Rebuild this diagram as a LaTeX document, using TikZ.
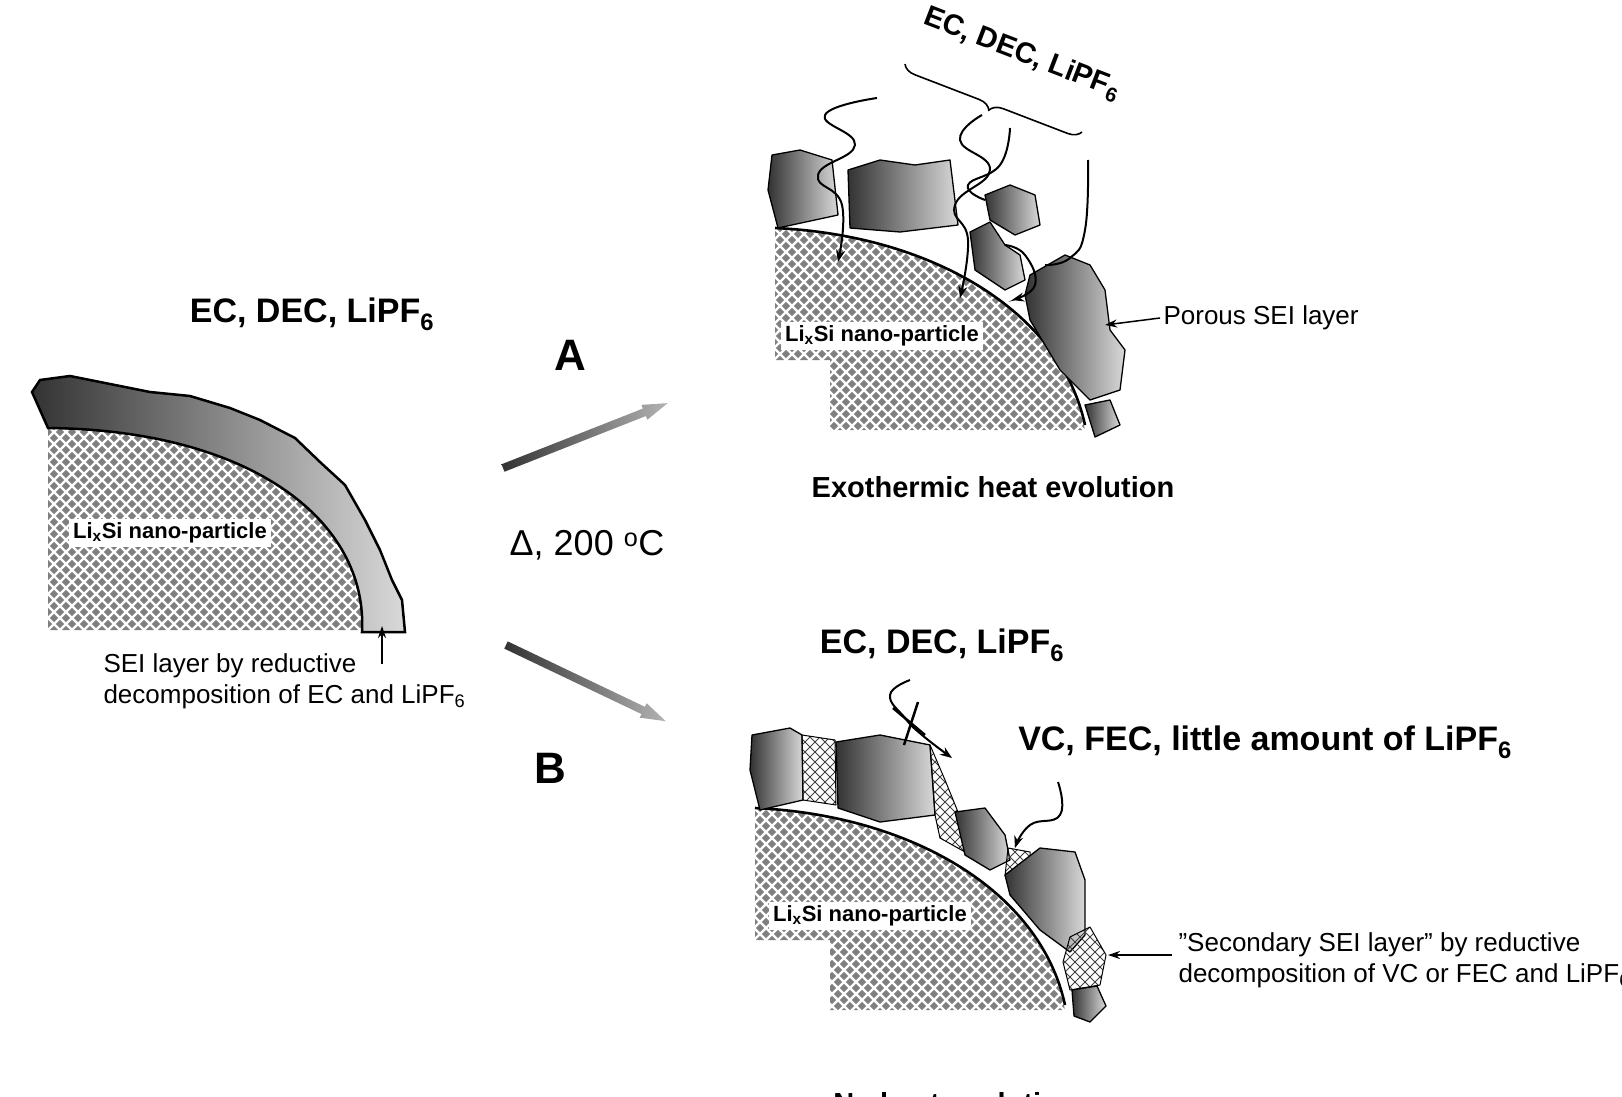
\documentclass[tikz,border=0pt]{standalone}
\usepackage{fontspec}
\setmainfont{Liberation Sans}
\usetikzlibrary{patterns,decorations.pathreplacing,arrows.meta}
\pgfdeclarepatternformonly{bigx}{\pgfpoint{-1pt}{-1pt}}{\pgfpoint{11pt}{11pt}}{\pgfpoint{10pt}{10pt}}{\pgfsetlinewidth{0.9pt}\pgfpathmoveto{\pgfpoint{0pt}{0pt}}\pgfpathlineto{\pgfpoint{10pt}{10pt}}\pgfpathmoveto{\pgfpoint{0pt}{10pt}}\pgfpathlineto{\pgfpoint{10pt}{0pt}}\pgfusepath{stroke}}
\begin{document}
\begin{tikzpicture}[x=1pt,y=-1pt,
  blk/.style={draw=black,line width=1.3pt,left color=black!80,right color=black!15,line join=round},
  xh/.style={draw=black,line width=1pt,pattern=bigx,pattern color=black!75,line join=round},
  edge/.style={line width=2.6pt},
  lab/.style={fill=white,inner sep=4pt,font=\bfseries\fontsize{22}{26}\selectfont},
  big/.style={font=\bfseries\fontsize{34}{40}\selectfont},
  mid/.style={font=\bfseries\fontsize{29}{34}\selectfont},
  reg/.style={font=\fontsize{26}{31}\selectfont,align=left},
  sq/.style={line width=2pt,-{Stealth[length=12pt,width=9pt]}},
  pt/.style={line width=1.5pt,-{Stealth[length=12pt,width=8pt]}}]
\useasboundingbox (0,0) rectangle (1622,1097);
\fill[white] (0,0) rectangle (1622,1097);
\newcommand{\checkers}[4]{%
  \foreach \cx in {#1,...,#2}{\foreach \cy in {#3,...,#4}{%
    \fill[black!50] (\cx*12,\cy*12) +(0,-4.2)--+(4.2,0)--+(0,4.2)--+(-4.2,0)--cycle;
    \fill[black!50] (\cx*12+6,\cy*12+6) +(0,-4.2)--+(4.2,0)--+(0,4.2)--+(-4.2,0)--cycle;}}}
% ---------------- left particle
\begin{scope}
\clip (48,428) .. controls (250,430) and (368,520) .. (362,630) -- (48,630) -- cycle;
\checkers{3}{31}{35}{53}
\end{scope}
\draw[line width=2.5pt,left color=black!80,right color=black!15]
  (32,392) -- (40,380) -- (70,376) -- (110,384) -- (150,392) -- (190,396) -- (230,408) -- (260,420)
  -- (295,438) -- (320,462) -- (345,485) -- (365,520) -- (380,550) -- (392,580) -- (402,600) -- (405,632)
  -- (362,632) .. controls (368,520) and (250,430) .. (48,428) -- cycle;
\node[lab] (l1) at (170,533) {Li\textsubscript{x}Si nano-particle};
\node[big] (t1) at (312,314) {EC, DEC, LiPF\textsubscript{6}};
\node[reg,anchor=west] (t2) at (100,681) {SEI layer by reductive\\decomposition of EC and LiPF\textsubscript{6}};
\coordinate (a1) at (382,664); \coordinate (a2) at (382,626);
\draw[pt] (a1) -- (a2);
% ---------------- arrows
\begin{scope}[shift={(503,468)},rotate=21.5]
\shade[left color=black!80,right color=black!30] (0,-4)--(152,-4)--(152,-8)--(177,0)--(152,8)--(152,4)--(0,4)--cycle;
\end{scope}
\begin{scope}[shift={(506,645)},rotate=-25.5]
\shade[left color=black!80,right color=black!30] (0,-4)--(152,-4)--(152,-8)--(177,0)--(152,8)--(152,4)--(0,4)--cycle;
\end{scope}
\node[font=\bfseries\fontsize{44}{48}\selectfont] (A) at (570,355) {A};
\node[font=\bfseries\fontsize{44}{48}\selectfont] (B) at (550,768) {B};
\node[font=\fontsize{36}{40}\selectfont] (d) at (587,545) {Δ, 200 \textsuperscript{o}C};
% ---------------- top right
\begin{scope}
\clip (775,228) .. controls (930,235) and (1060,310) .. (1085,430) -- (830,430) -- (830,360) -- (775,360) -- cycle;
\checkers{64}{91}{18}{36}
\end{scope}
\draw[edge] (775,228) .. controls (930,235) and (1060,310) .. (1085,425);
\draw[blk] (772,155)--(800,150)--(832,160)--(838,215)--(778,228)--(768,190)--cycle;
\draw[blk] (848,170)--(880,160)--(915,165)--(950,160)--(958,225)--(900,232)--(850,228)--cycle;
\draw[blk] (985,195)--(1010,185)--(1035,195)--(1040,225)--(1015,235)--(990,220)--cycle;
\draw[blk] (970,232)--(990,222)--(1005,245)--(1020,255)--(1025,280)--(1005,290)--(975,270)--cycle;
\draw[blk] (1030,275)--(1065,255)--(1090,265)--(1105,290)--(1110,330)--(1125,350)--(1120,390)--(1090,400)--(1060,370)--(1030,320)--(1025,295)--cycle;
\draw[blk] (1085,405)--(1110,400)--(1120,425)--(1095,437)--cycle;
\node[lab] (l2) at (882,336) {Li\textsubscript{x}Si nano-particle};
\draw[sq] plot[smooth,tension=0.8] coordinates {(877,98) (825,115) (855,145) (818,175) (842,205) (838,262)};
\draw[sq] plot[smooth,tension=0.8] coordinates {(982,115) (960,140) (990,170) (955,205) (968,240) (960,298)};
\draw[line width=2pt] plot[smooth,tension=0.8] coordinates {(1010,128) (1000,165) (968,185) (985,200)};
\draw[sq] plot[smooth,tension=0.8] coordinates {(1005,245) (1025,255) (1035,285) (1012,300)};
\draw[line width=2pt] plot[smooth,tension=0.8] coordinates {(1088,160) (1085,230) (1070,258) (1045,265)};
\draw[decorate,decoration={brace,amplitude=13pt},line width=1.6pt] (1082,132) -- (905,64);
\node[font=\bfseries\fontsize{29}{34}\selectfont,rotate=-21] (t3) at (1022,54) {EC, DEC, LiPF\textsubscript{6}};
\node[reg,anchor=west] (t4) at (1160,318) {Porous SEI layer};
\draw[pt] (t4.west) -- (1105,325);
\node[mid] (t5) at (993,487) {Exothermic heat evolution};
% ---------------- bottom right
\begin{scope}[shift={(-20,580)}]
\begin{scope}
\clip (775,228) .. controls (930,235) and (1060,310) .. (1085,430) -- (850,430) -- (850,360) -- (775,360) -- cycle;
\checkers{64}{91}{18}{36}
\end{scope}
\draw[edge] (775,228) .. controls (930,235) and (1060,310) .. (1085,425);
\end{scope}
\draw[blk] (752,735)--(790,728)--(802,735)--(803,800)--(760,810)--(750,770)--cycle;
\draw[xh] (802,735)--(835,740)--(836,805)--(803,800)--cycle;
\draw[blk] (836,742)--(880,735)--(930,745)--(935,815)--(880,822)--(838,808)--cycle;
\draw[xh] (930,745)--(945,780)--(958,812)--(965,852)--(940,838)--(935,815)--cycle;
\draw[blk] (955,812)--(985,808)--(1005,835)--(1010,860)--(990,870)--(965,855)--cycle;
\draw[xh] (1008,848)--(1030,852)--(1030,882)--(1005,876)--cycle;
\draw[blk] (1005,875)--(1040,848)--(1075,852)--(1085,880)--(1085,935)--(1070,952)--(1040,930)--(1010,895)--cycle;
\draw[xh] (1070,937)--(1090,927)--(1106,955)--(1100,985)--(1070,990)--(1063,962)--cycle;
\draw[blk] (1072,990)--(1097,986)--(1106,1006)--(1090,1022)--(1074,1016)--cycle;
\node[lab] (l3) at (870,916) {Li\textsubscript{x}Si nano-particle};
\node[big] (t6) at (942,645) {EC, DEC, LiPF\textsubscript{6}};
\draw[sq] plot[smooth,tension=0.8] coordinates {(910,680) (890,695) (905,718) (922,735) (952,758)};
\draw[line width=2.5pt] (893,708) -- (925,735) (918,702) -- (904,745);
\node[big] (t7) at (1265,742) {VC, FEC, little amount of LiPF\textsubscript{6}};
\draw[sq] plot[smooth,tension=0.8] coordinates {(1058,782) (1060,815) (1030,825) (1015,848)};
\node[reg,anchor=west] (t8) at (1175,960) {"Secondary SEI layer" by reductive\\decomposition of VC or FEC and LiPF\textsubscript{6}};
\draw[pt] (1172,955) -- (1108,955);
\node[mid] (t9) at (955,1103) {No heat evolution};
\end{tikzpicture}
\end{document}
